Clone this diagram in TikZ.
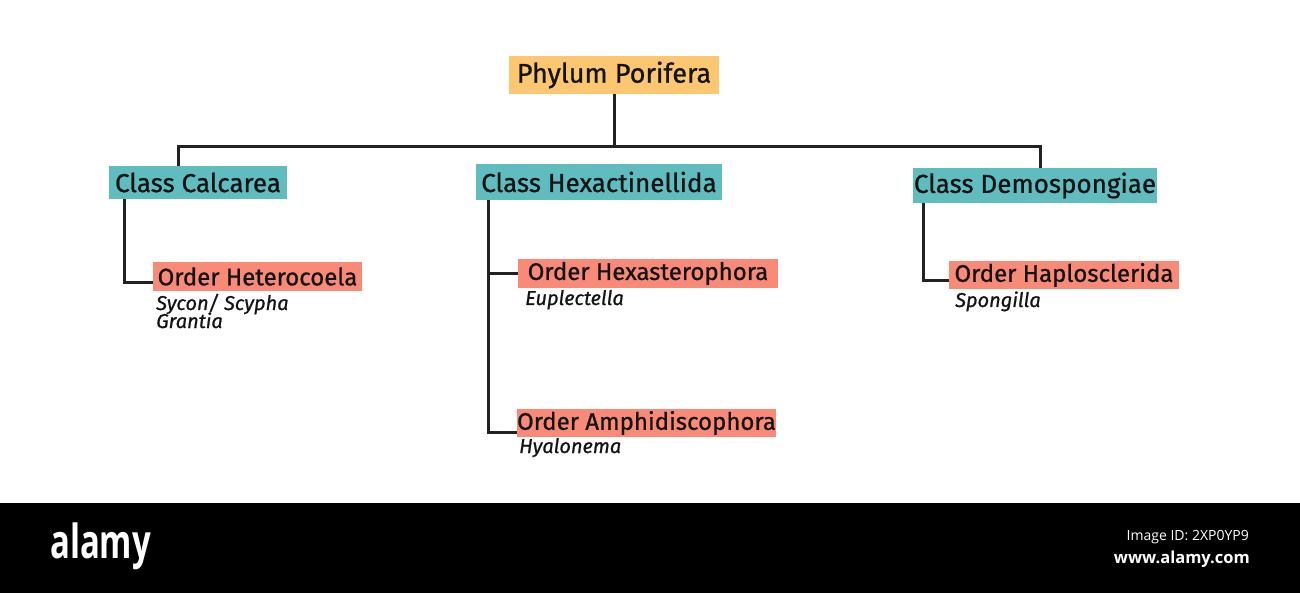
\documentclass[tikz,border=0pt]{standalone}
\usepackage{fontspec}
\setmainfont{Fira Sans}[FakeBold=0.9]
\newfontfamily\alamyfont[FakeStretch=0.7]{Open Sans}
\newfontfamily\bannerfont{Open Sans}
\definecolor{phyfill}{HTML}{FDC670}
\definecolor{clsfill}{HTML}{5FBDC0}
\definecolor{ordfill}{HTML}{F98A77}
\definecolor{txt}{HTML}{141414}
\definecolor{conn}{HTML}{222222}
\tikzset{
  box/.style={draw=none, inner sep=0pt, text=txt, anchor=center},
  phybox/.style={box, fill=phyfill, font=\fontsize{27}{30}\selectfont},
  clsbox/.style={box, fill=clsfill, font=\fontsize{26}{30}\selectfont},
  ordbox/.style={box, fill=ordfill, font=\fontsize{24}{28}\selectfont},
  species/.style={inner sep=0pt, text=txt, anchor=base west, align=left, font=\fontsize{20}{18}\selectfont\itshape},
  conline/.style={draw=conn, line width=3pt},
}
\begin{document}
\begin{tikzpicture}[x=1pt,y=-1pt]
\useasboundingbox (0,0) rectangle (1300,593);
\fill[white] (0,0) rectangle (1300,593);
% nodes
\node[phybox, minimum width=210pt, minimum height=38pt] (phy) at (614,75) {Phylum Porifera};
\node[clsbox, minimum width=178pt, minimum height=33pt] (cal) at (198,182.5) {Class Calcarea};
\node[clsbox, minimum width=246pt, minimum height=36pt] (hexc) at (599,182) {Class Hexactinellida};
\node[clsbox, minimum width=244pt, minimum height=35pt] (dem) at (1035,185.5) {Class Demospongiae};
\node[ordbox, minimum width=209pt, minimum height=29pt] (het) at (257.5,276.5) {Order Heterocoela};
\node[ordbox, minimum width=260pt, minimum height=29pt] (hexs) at (648,273.5) {Order Hexasterophora};
\node[ordbox, minimum width=257pt, minimum height=28pt] (amph) at (646.5,423) {Order Amphidiscophora};
\node[ordbox, minimum width=230pt, minimum height=28pt] (hap) at (1064,275) {Order Haplosclerida};
% species
\node[species] (sp1) at (156,310) {Sycon/ Scypha};
\node[species] (sp2) at (156,328) {Grantia};
\node[species] (sp3) at (525,305) {Euplectella};
\node[species] (sp4) at (519,453) {Hyalonema};
\node[species] (sp5) at (955,307) {Spongilla};
% connectors
\coordinate (hl) at (178,147);
\coordinate (hr) at (1040,147);
\draw[conline] (phy.south) -- (phy.south |- hl);
\draw[conline, line cap=rect] (hl) -- (hr);
\draw[conline] (hl) -- (hl |- cal.north);
\draw[conline] (hr) -- (hr |- dem.north);
\draw[conline] ([xshift=16pt]cal.south west) |- ([yshift=-6pt]het.west);
\draw[conline] ([xshift=13pt]hexc.south west) |- ([yshift=-9pt]amph.west);
\draw[conline] ([xshift=13pt]hexc.south west |- hexs.west) -- (hexs.west);
\draw[conline] ([xshift=11pt]dem.south west) |- ([yshift=-6pt]hap.west);
% banner
\fill[black] (0,503) rectangle (1300,593);
\node[inner sep=0pt, anchor=base west, text=white, font=\alamyfont\bfseries\fontsize{47}{50}\selectfont] (logo) at (50,558) {alamy};
\node[inner sep=0pt, anchor=base east, text=white, font=\bannerfont\fontsize{14}{16}\selectfont] (imgid) at (1249,540) {Image ID: 2XP0YP9};
\node[inner sep=0pt, anchor=base east, text=white, font=\bannerfont\bfseries\fontsize{16.5}{18}\selectfont] (www) at (1250,563) {www.alamy.com};
\end{tikzpicture}
\end{document}
